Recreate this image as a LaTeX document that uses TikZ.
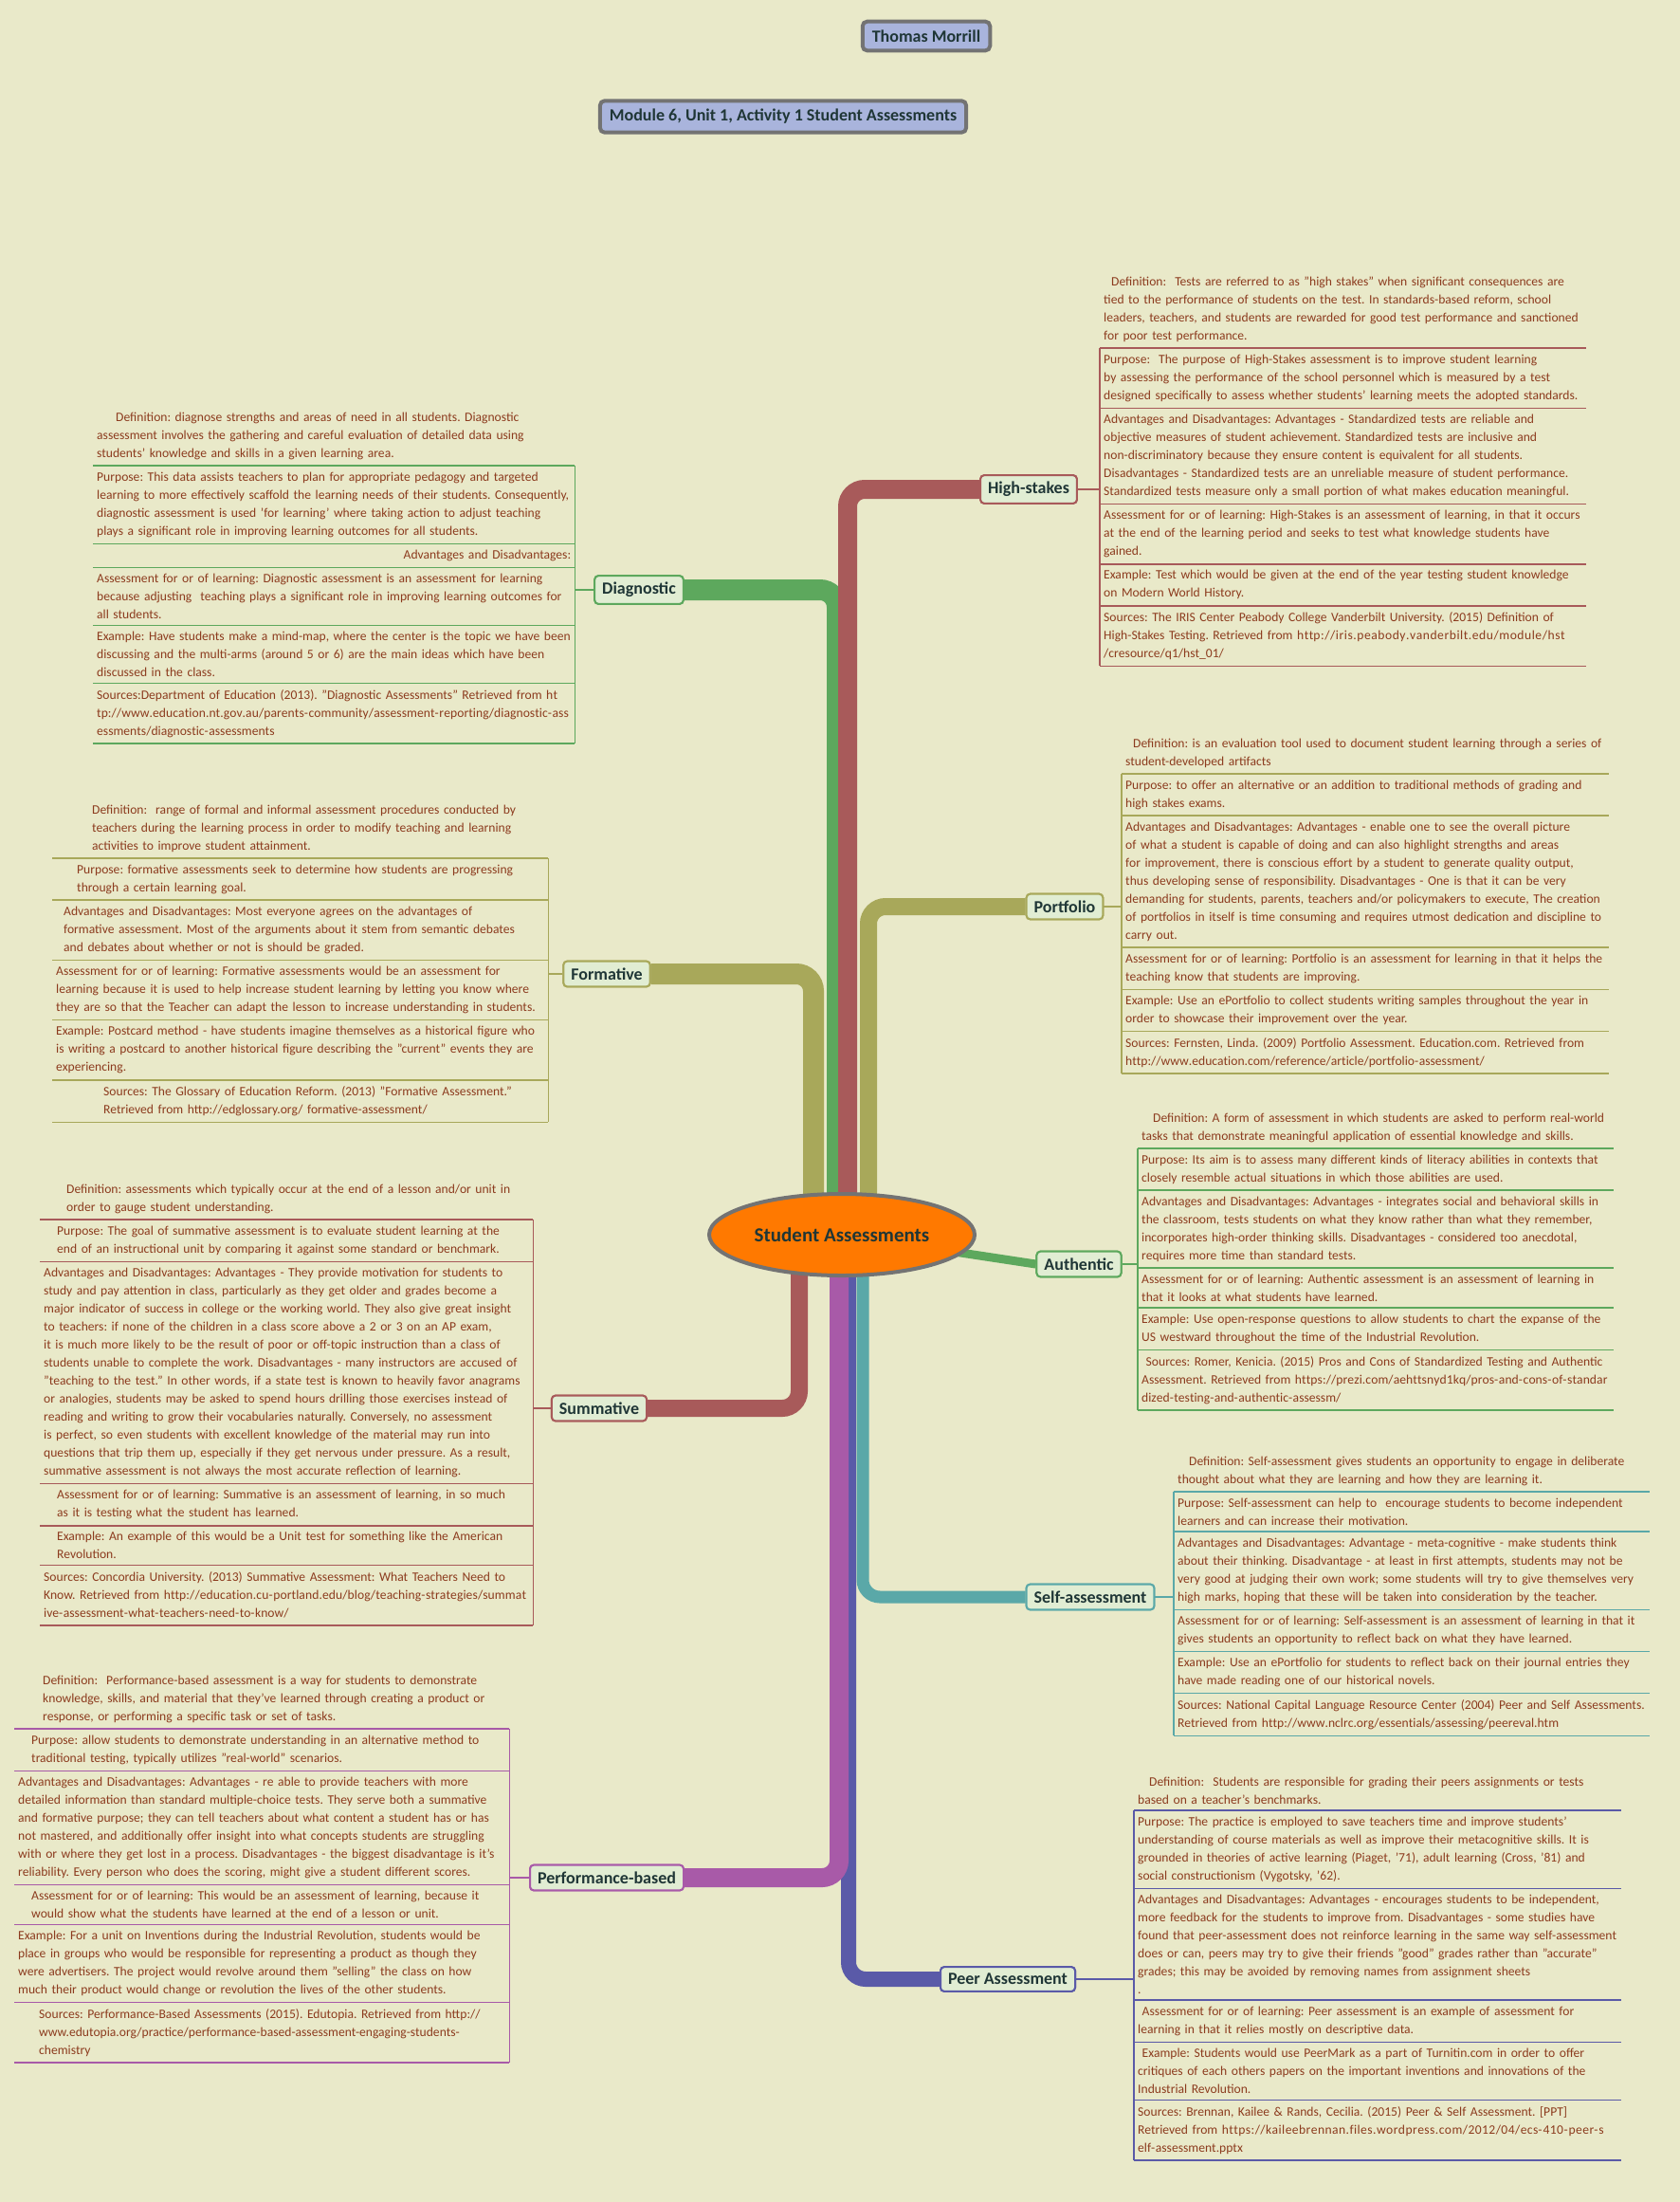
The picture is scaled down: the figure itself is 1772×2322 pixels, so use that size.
\documentclass[tikz,border=0pt]{standalone}
\usepackage{fontspec}
\setmainfont{Carlito}
\usepackage{xurl}
\urlstyle{same}
\usetikzlibrary{shapes.geometric,calc}
\frenchspacing
\hyphenpenalty=10000 \exhyphenpenalty=10000
\definecolor{bg}{HTML}{E9E9C9}
\definecolor{txt}{HTML}{8C3B1E}
\definecolor{hdr}{HTML}{1F3636}
\definecolor{hsc}{HTML}{A85A5A}
\definecolor{dgc}{HTML}{5DA85D}
\definecolor{olc}{HTML}{A8A85A}
\definecolor{tlc}{HTML}{5AA8A8}
\definecolor{puc}{HTML}{A85AA8}
\definecolor{blc}{HTML}{5A5AA8}
\definecolor{topf}{HTML}{A9B4DC}
\definecolor{mnf}{HTML}{E1EDD3}
\tikzset{
 it/.style={anchor=north west,inner xsep=4pt,inner ysep=6.5pt,align=left,text=txt,font=\fontsize{13.6}{19}\selectfont},
 ln/.style={line width=1.6pt},
 mainn/.style={draw=#1,line width=2pt,rounded corners=4pt,fill=mnf,text=hdr,font=\fontsize{18}{20}\selectfont\bfseries,inner xsep=8pt,inner ysep=7pt},
 topn/.style={draw=gray!90!black,line width=4pt,rounded corners=5pt,fill=topf,text=hdr,font=\fontsize{18}{20}\selectfont\bfseries,inner xsep=10pt,inner ysep=9pt},
 band/.style={draw=#1,line width=20pt,rounded corners=18pt}
}
\newcommand\gi[5]{\node[it,text width=#4] (#1) at (#3) {#5}; \draw[#2,ln] (#1.south west)--(#1.south east);}
\begin{document}
\begin{tikzpicture}[x=1pt,y=-1pt]
\fill[bg] (0,0) rectangle (1772,2322);
\useasboundingbox (0,0) rectangle (1772,2322);
\node[ellipse,minimum width=280pt,minimum height=86pt] (c) at (888,1302) {};
% main nodes
\node[mainn=hsc] (hs) at (1085,516) {High-stakes};
\node[mainn=dgc] (dg) at (674,622) {Diagnostic};
\node[mainn=olc] (pf) at (1123,956) {Portfolio};
\node[mainn=olc] (fm) at (640,1027) {Formative};
\node[mainn=dgc] (au) at (1138,1333) {Authentic};
\node[mainn=hsc] (sm) at (632,1485) {Summative};
\node[mainn=tlc] (sa) at (1150,1684) {Self-assessment};
\node[mainn=puc] (pb) at (640,1980) {Performance-based};
\node[mainn=blc] (pa) at (1063,2087) {Peer Assessment};
% bands
\draw[band=blc,line width=16pt] ($(c.center)+(7,0)$) |- (pa.west);
\draw[band=puc] ($(c.center)+(-3,0)$) |- (pb.east);
\draw[band=tlc,line width=13pt] ($(c.center)+(22,0)$) |- (sa.west);
\draw[band=hsc,line width=18pt] ($(c.center)+(-45,0)$) |- (sm.east);
\draw[band=olc,line width=18pt] ($(c.center)+(28,0)$) |- (pf.west);
\draw[band=olc,line width=22pt] ($(c.center)+(-30,0)$) |- (fm.east);
\draw[band=dgc,line width=22pt] ($(c.center)+(-5,0)$) |- (dg.east);
\draw[band=hsc,line width=20pt] ($(c.center)+(6,0)$) |- (hs.west);
\draw[band=dgc,line width=9pt] (c.center) -- (au.west);
\node[ellipse,draw=gray!90!black,line width=4pt,fill=orange!95!red,minimum width=280pt,minimum height=86pt,text=hdr,font=\fontsize{21}{24}\selectfont\bfseries] at (c.center) {Student Assessments};
\node[mainn=hsc] at (hs) {High-stakes};
\node[mainn=dgc] at (dg) {Diagnostic};
\node[mainn=olc] at (pf) {Portfolio};
\node[mainn=olc] at (fm) {Formative};
\node[mainn=dgc] at (au) {Authentic};
\node[mainn=hsc] at (sm) {Summative};
\node[mainn=tlc] at (sa) {Self-assessment};
\node[mainn=puc] at (pb) {Performance-based};
\node[mainn=blc] at (pa) {Peer Assessment};
% top
\node[topn] (tm) at (977,38) {Thomas Morrill};
\node[topn] (md) at (826,123) {Module 6, Unit 1, Activity 1 Student Assessments};
% High-stakes
\gi{hs1}{hsc}{1160,285}{505pt}{\hspace*{8pt}Definition:\ \ Tests are referred to as "high stakes" when significant consequences are tied to the performance of students on the test. In standards-based reform, school leaders, teachers, and students are rewarded for good test performance and sanctioned for poor test performance.}
\gi{hs2}{hsc}{hs1.south west}{505pt}{Purpose:\ \ The purpose of High-Stakes assessment is to improve student learning by assessing the performance of the school personnel which is measured by a test designed specifically to assess whether students' learning meets the adopted standards.}
\gi{hs3}{hsc}{hs2.south west}{505pt}{Advantages and Disadvantages: Advantages - Standardized tests are reliable and objective measures of student achievement. Standardized tests are inclusive and non-discriminatory because they ensure content is equivalent for all students. Disadvantages - Standardized tests are an unreliable measure of student performance. Standardized tests measure only a small portion of what makes education meaningful.}
\gi{hs4}{hsc}{hs3.south west}{505pt}{Assessment for or of learning: High-Stakes is an assessment of learning, in that it occurs at the end of the learning period and seeks to test what knowledge students have gained.}
\gi{hs5}{hsc}{hs4.south west}{505pt}{Example: Test which would be given at the end of the year testing student knowledge on Modern World History.}
\gi{hs6}{hsc}{hs5.south west}{505pt}{Sources: The IRIS Center Peabody College Vanderbilt University. (2015) Definition of High-Stakes Testing. Retrieved from \url{http://iris.peabody.vanderbilt.edu/module/hst/cresource/q1/hst_01/}}
\draw[hsc,ln] (hs2.north west)--(hs6.south west);
\draw[hsc,ln] (hs.east)--(hs.east -| hs2.west);
% Diagnostic
\gi{dg1}{dgc}{98,428}{500pt}{\hspace*{20pt}Definition: diagnose strengths and areas of need in all students. Diagnostic assessment involves the gathering and careful evaluation of detailed data using students' knowledge and skills in a given learning area.}
\gi{dg2}{dgc}{dg1.south west}{500pt}{Purpose: This data assists teachers to plan for appropriate pedagogy and targeted learning to more effectively scaffold the learning needs of their students. Consequently, diagnostic assessment is used 'for learning' where taking action to adjust teaching plays a significant role in improving learning outcomes for all students.}
\gi{dg3}{dgc}{dg2.south west}{500pt}{\hfill Advantages and Disadvantages:}
\gi{dg4}{dgc}{dg3.south west}{500pt}{Assessment for or of learning: Diagnostic assessment is an assessment for learning because adjusting\ \ teaching plays a significant role in improving learning outcomes for all students.}
\gi{dg5}{dgc}{dg4.south west}{500pt}{Example: Have students make a mind-map, where the center is the topic we have been discussing and the multi-arms (around 5 or 6) are the main ideas which have been discussed in the class.}
\gi{dg6}{dgc}{dg5.south west}{500pt}{Sources:Department of Education (2013). "Diagnostic Assessments" Retrieved from \url{http://www.education.nt.gov.au/parents-community/assessment-reporting/diagnostic-assessments/diagnostic-assessments}}
\draw[dgc,ln] (dg2.north east)--(dg6.south east);
\draw[dgc,ln] (dg.west)--(dg.west -| dg2.east);
% Portfolio
\gi{pf1}{olc}{1183,772}{506pt}{\hspace*{8pt}Definition: is an evaluation tool used to document student learning through a series of student-developed artifacts}
\gi{pf2}{olc}{pf1.south west}{506pt}{Purpose: to offer an alternative or an addition to traditional methods of grading and high stakes exams.}
\gi{pf3}{olc}{pf2.south west}{506pt}{Advantages and Disadvantages: Advantages - enable one to see the overall picture of what a student is capable of doing and can also highlight strengths and areas for improvement, there is conscious effort by a student to generate quality output, thus developing sense of responsibility. Disadvantages - One is that it can be very demanding for students, parents, teachers and/or policymakers to execute, The creation of portfolios in itself is time consuming and requires utmost dedication and discipline to carry out.}
\gi{pf4}{olc}{pf3.south west}{506pt}{Assessment for or of learning: Portfolio is an assessment for learning in that it helps the teaching know that students are improving.}
\gi{pf5}{olc}{pf4.south west}{506pt}{Example: Use an ePortfolio to collect students writing samples throughout the year in order to showcase their improvement over the year.}
\gi{pf6}{olc}{pf5.south west}{506pt}{Sources: Fernsten, Linda. (2009) Portfolio Assessment. Education.com. Retrieved from \url{http://www.education.com/reference/article/portfolio-assessment/}}
\draw[olc,ln] (pf2.north west)--(pf6.south west);
\draw[olc,ln] (pf.east)--(pf.east -| pf2.west);
% Formative
\gi{fm1}{olc}{55,842}{515pt}{\hspace*{38pt}Definition:\ \ range of formal and informal assessment procedures conducted by\\\hspace*{38pt}teachers during the learning process in order to modify teaching and learning\\\hspace*{38pt}activities to improve student attainment.}
\gi{fm2}{olc}{fm1.south west}{515pt}{\hspace*{22pt}Purpose: formative assessments seek to determine how students are progressing\\\hspace*{22pt}through a certain learning goal.}
\gi{fm3}{olc}{fm2.south west}{515pt}{\hspace*{8pt}Advantages and Disadvantages: Most everyone agrees on the advantages of\\\hspace*{8pt}formative assessment. Most of the arguments about it stem from semantic debates\\\hspace*{8pt}and debates about whether or not is should be graded.}
\gi{fm4}{olc}{fm3.south west}{515pt}{Assessment for or of learning: Formative assessments would be an assessment for learning because it is used to help increase student learning by letting you know where they are so that the Teacher can adapt the lesson to increase understanding in students.}
\gi{fm5}{olc}{fm4.south west}{515pt}{Example: Postcard method - have students imagine themselves as a historical figure who is writing a postcard to another historical figure describing the "current" events they are experiencing.}
\gi{fm6}{olc}{fm5.south west}{515pt}{\hspace*{50pt}Sources: The Glossary of Education Reform. (2013) "Formative Assessment."\\\hspace*{50pt}Retrieved from http://edglossary.org/ formative-assessment/}
\draw[olc,ln] (fm2.north east)--(fm6.south east);
\draw[olc,ln] (fm.west)--(fm.west -| fm2.east);
% Authentic
\gi{au1}{dgc}{1200,1167}{494pt}{\hspace*{12pt}Definition: A form of assessment in which students are asked to perform real-world tasks that demonstrate meaningful application of essential knowledge and skills.}
\gi{au2}{dgc}{au1.south west}{494pt}{Purpose: Its aim is to assess many different kinds of literacy abilities in contexts that closely resemble actual situations in which those abilities are used.}
\gi{au3}{dgc}{au2.south west}{494pt}{Advantages and Disadvantages: Advantages - integrates social and behavioral skills in the classroom, tests students on what they know rather than what they remember, incorporates high-order thinking skills. Disadvantages - considered too anecdotal, requires more time than standard tests.}
\gi{au4}{dgc}{au3.south west}{494pt}{Assessment for or of learning: Authentic assessment is an assessment of learning in that it looks at what students have learned.}
\gi{au5}{dgc}{au4.south west}{494pt}{Example: Use open-response questions to allow students to chart the expanse of the US westward throughout the time of the Industrial Revolution.}
\gi{au6}{dgc}{au5.south west}{494pt}{\ Sources: Romer, Kenicia. (2015) Pros and Cons of Standardized Testing and Authentic Assessment. Retrieved from \url{https://prezi.com/aehttsnyd1kq/pros-and-cons-of-standardized-testing-and-authentic-assessm/}}
\draw[dgc,ln] (au2.north west)--(au6.south west);
\draw[dgc,ln] (au.east)--(au.east -| au2.west);
% Summative
\gi{sm1}{hsc}{42,1242}{512pt}{\hspace*{24pt}Definition: assessments which typically occur at the end of a lesson and/or unit in\\\hspace*{24pt}order to gauge student understanding.}
\gi{sm2}{hsc}{sm1.south west}{512pt}{\hspace*{14pt}Purpose: The goal of summative assessment is to evaluate student learning at the\\\hspace*{14pt}end of an instructional unit by comparing it against some standard or benchmark.}
\gi{sm3}{hsc}{sm2.south west}{512pt}{Advantages and Disadvantages: Advantages - They provide motivation for students to study and pay attention in class, particularly as they get older and grades become a major indicator of success in college or the working world. They also give great insight to teachers: if none of the children in a class score above a 2 or 3 on an AP exam, it is much more likely to be the result of poor or off-topic instruction than a class of students unable to complete the work. Disadvantages - many instructors are accused of "teaching to the test." In other words, if a state test is known to heavily favor anagrams or analogies, students may be asked to spend hours drilling those exercises instead of reading and writing to grow their vocabularies naturally. Conversely, no assessment is perfect, so even students with excellent knowledge of the material may run into questions that trip them up, especially if they get nervous under pressure. As a result, summative assessment is not always the most accurate reflection of learning.}
\gi{sm4}{hsc}{sm3.south west}{512pt}{\hspace*{14pt}Assessment for or of learning: Summative is an assessment of learning, in so much\\\hspace*{14pt}as it is testing what the student has learned.}
\gi{sm5}{hsc}{sm4.south west}{512pt}{\hspace*{14pt}Example: An example of this would be a Unit test for something like the American\\\hspace*{14pt}Revolution.}
\gi{sm6}{hsc}{sm5.south west}{512pt}{Sources: Concordia University. (2013) Summative Assessment: What Teachers Need to Know. Retrieved from \url{http://education.cu-portland.edu/blog/teaching-strategies/summative-assessment-what-teachers-need-to-know/}}
\draw[hsc,ln] (sm2.north east)--(sm6.south east);
\draw[hsc,ln] (sm.west)--(sm.west -| sm2.east);
% Self-assessment
\gi{sa1}{tlc}{1238,1529}{494pt}{\hspace*{12pt}Definition: Self-assessment gives students an opportunity to engage in deliberate thought about what they are learning and how they are learning it.}
\gi{sa2}{tlc}{sa1.south west}{494pt}{Purpose: Self-assessment can help to\ \ encourage students to become independent learners and can increase their motivation.}
\gi{sa3}{tlc}{sa2.south west}{494pt}{Advantages and Disadvantages: Advantage - meta-cognitive - make students think about their thinking. Disadvantage - at least in first attempts, students may not be very good at judging their own work; some students will try to give themselves very high marks, hoping that these will be taken into consideration by the teacher.}
\gi{sa4}{tlc}{sa3.south west}{494pt}{Assessment for or of learning: Self-assessment is an assessment of learning in that it gives students an opportunity to reflect back on what they have learned.}
\gi{sa5}{tlc}{sa4.south west}{494pt}{Example: Use an ePortfolio for students to reflect back on their journal entries they have made reading one of our historical novels.}
\gi{sa6}{tlc}{sa5.south west}{494pt}{Sources: National Capital Language Resource Center (2004) Peer and Self Assessments. Retrieved from \url{http://www.nclrc.org/essentials/assessing/peereval.htm}}
\draw[tlc,ln] (sa2.north west)--(sa6.south west);
\draw[tlc,ln] (sa.east)--(sa.east -| sa2.west);
% Performance-based
\gi{pb1}{puc}{15,1760}{514pt}{\hspace*{26pt}Definition:\ \ Performance-based assessment is a way for students to demonstrate\\\hspace*{26pt}knowledge, skills, and material that they've learned through creating a product or\\\hspace*{26pt}response, or performing a specific task or set of tasks.}
\gi{pb2}{puc}{pb1.south west}{514pt}{\hspace*{14pt}Purpose: allow students to demonstrate understanding in an alternative method to\\\hspace*{14pt}traditional testing, typically utilizes "real-world" scenarios.}
\gi{pb3}{puc}{pb2.south west}{514pt}{Advantages and Disadvantages: Advantages - re able to provide teachers with more detailed information than standard multiple-choice tests. They serve both a summative and formative purpose; they can tell teachers about what content a student has or has not mastered, and additionally offer insight into what concepts students are struggling with or where they get lost in a process. Disadvantages - the biggest disadvantage is it's reliability. Every person who does the scoring, might give a student different scores.}
\gi{pb4}{puc}{pb3.south west}{514pt}{\hspace*{14pt}Assessment for or of learning: This would be an assessment of learning, because it\\\hspace*{14pt}would show what the students have learned at the end of a lesson or unit.}
\gi{pb5}{puc}{pb4.south west}{514pt}{Example: For a unit on Inventions during the Industrial Revolution, students would be place in groups who would be responsible for representing a product as though they were advertisers. The project would revolve around them "selling" the class on how much their product would change or revolution the lives of the other students.}
\gi{pb6}{puc}{pb5.south west}{514pt}{\hspace*{22pt}Sources: Performance-Based Assessments (2015). Edutopia. Retrieved from http://\\\hspace*{22pt}www.edutopia.org/practice/performance-based-assessment-engaging-students-\\\hspace*{22pt}chemistry}
\draw[puc,ln] (pb2.north east)--(pb6.south east);
\draw[puc,ln] (pb.west)--(pb.west -| pb2.east);
% Peer
\gi{pa1}{blc}{1196,1867}{506pt}{\hspace*{12pt}Definition:\ \ Students are responsible for grading their peers assignments or tests based on a teacher's benchmarks.}
\gi{pa2}{blc}{pa1.south west}{506pt}{Purpose: The practice is employed to save teachers time and improve students' understanding of course materials as well as improve their metacognitive skills. It is grounded in theories of active learning (Piaget, '71), adult learning (Cross, '81) and social constructionism (Vygotsky, '62).}
\gi{pa3}{blc}{pa2.south west}{506pt}{Advantages and Disadvantages: Advantages - encourages students to be independent, more feedback for the students to improve from. Disadvantages - some studies have found that peer-assessment does not reinforce learning in the same way self-assessment does or can, peers may try to give their friends "good" grades rather than "accurate" grades; this may be avoided by removing names from assignment sheets\\.}
\gi{pa4}{blc}{pa3.south west}{506pt}{\ Assessment for or of learning: Peer assessment is an example of assessment for learning in that it relies mostly on descriptive data.}
\gi{pa5}{blc}{pa4.south west}{506pt}{\ Example: Students would use PeerMark as a part of Turnitin.com in order to offer critiques of each others papers on the important inventions and innovations of the Industrial Revolution.}
\gi{pa6}{blc}{pa5.south west}{506pt}{Sources: Brennan, Kailee \& Rands, Cecilia. (2015) Peer \& Self Assessment. [PPT] Retrieved from \url{https://kaileebrennan.files.wordpress.com/2012/04/ecs-410-peer-self-assessment.pptx}}
\draw[blc,ln] (pa2.north west)--(pa6.south west);
\draw[blc,ln] (pa.east)--(pa.east -| pa2.west);
\end{tikzpicture}
\end{document}
